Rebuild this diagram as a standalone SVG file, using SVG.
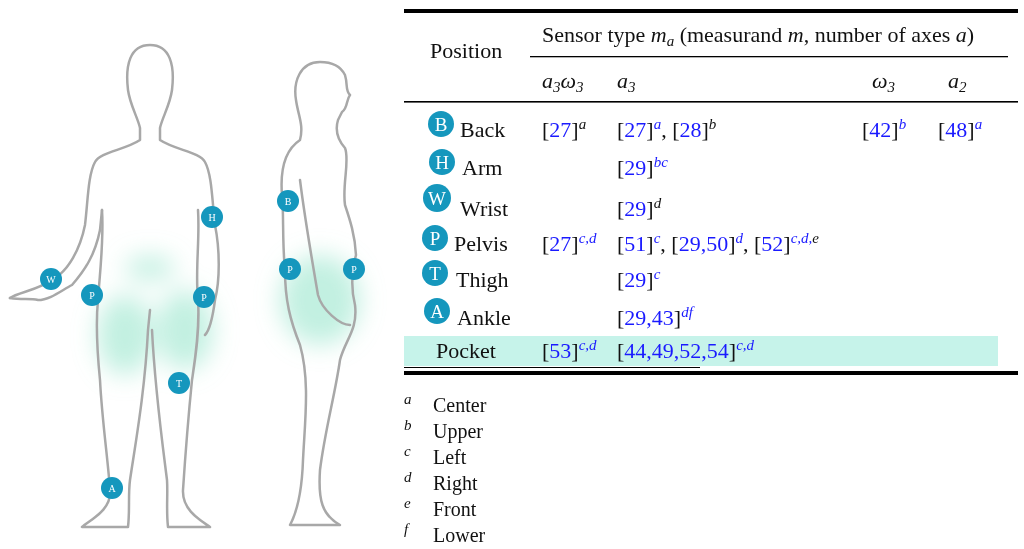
<svg xmlns="http://www.w3.org/2000/svg" width="1024" height="549" viewBox="0 0 1024 549">
<style>
.t{font-family:"Liberation Serif","Times New Roman",serif;font-size:22px;fill:#111}
.i{font-style:italic}
.r{fill:#1a1aff}
.s{font-size:15px;font-style:italic}
.body{fill:none;stroke:#a8a8a8;stroke-width:2.5;stroke-linejoin:round;stroke-linecap:round}
.dot{fill:#1597bd}
.dl{font-family:"Liberation Serif",serif;fill:#fff;text-anchor:middle}
.g{fill:#8fe3c8;opacity:.55}
</style>
<defs><filter id="bl" x="-50%" y="-50%" width="200%" height="200%"><feGaussianBlur stdDeviation="12"/></filter></defs>
<rect width="1024" height="549" fill="#fff"/>
<g id="glow" filter="url(#bl)">
<ellipse class="g" cx="150" cy="268" rx="25" ry="12"/>
<ellipse class="g" cx="125" cy="335" rx="28" ry="40"/>
<ellipse class="g" cx="185" cy="330" rx="28" ry="40"/>
<ellipse class="g" cx="320" cy="300" rx="40" ry="45"/>
</g>
<g id="front-figure" class="body">
<path d="M150 45 C130 45 125 65 128 90 C130 105 138 118 140 128 L140 140 C125 150 100 152 95 162 C88 175 88 200 85 225 C80 250 68 270 55 278 C40 290 18 292 10 298 M150 45 C170 45 175 65 172 90 C170 105 162 118 160 128 L160 140 C175 150 200 152 205 162 C212 175 212 200 215 225 C220 250 220 280 215 300 C213 315 210 330 205 335"/>
<path d="M10 298 C22 300 30 298 38 300 C50 300 62 290 72 285 C85 270 95 255 100 230 L102 210"/>
<path d="M198 210 C200 240 195 270 198 300 M102 210 C104 240 100 270 98 300 C95 330 98 360 100 380 C102 420 108 460 110 490 C112 510 90 520 82 527 L128 527 C130 510 128 495 130 480 C136 440 145 390 148 330 L150 310 M198 300 C200 330 195 360 192 380 C188 420 185 460 183 490 C182 510 200 520 210 527 L168 527 C166 510 168 495 167 480 C162 440 155 390 152 330"/>
</g>
<g id="side-figure" class="body">
<path d="M320 62 C300 62 293 82 296 100 C298 115 304 125 300 140 C285 150 280 170 282 195 C284 215 282 240 285 270 C285 300 290 320 300 345 C310 380 305 420 303 460 C302 490 298 510 290 525 L340 525 C322 515 318 500 320 470 C325 430 335 395 340 360 C345 340 358 330 355 305 C350 285 352 270 356 255 C355 235 350 220 345 205 C342 185 350 160 345 148 C338 140 335 130 338 120 L342 112 C348 108 346 100 350 95 C345 90 348 85 345 75 C340 65 330 62 320 62 Z"/>
<path d="M300 180 C305 220 312 260 318 295 C322 310 340 325 350 325"/>
</g>
<g id="sensors">
<circle class="dot" cx="212" cy="217" r="11"/><text class="dl" x="212" y="221" font-size="10">H</text>
<circle class="dot" cx="288" cy="201" r="11"/><text class="dl" x="288" y="205" font-size="10">B</text>
<circle class="dot" cx="51" cy="279" r="11"/><text class="dl" x="51" y="283" font-size="10">W</text>
<circle class="dot" cx="92" cy="295" r="11"/><text class="dl" x="92" y="299" font-size="10">P</text>
<circle class="dot" cx="204" cy="297" r="11"/><text class="dl" x="204" y="301" font-size="10">P</text>
<circle class="dot" cx="290" cy="269" r="11"/><text class="dl" x="290" y="273" font-size="10">P</text>
<circle class="dot" cx="354" cy="269" r="11"/><text class="dl" x="354" y="273" font-size="10">P</text>
<circle class="dot" cx="179" cy="383" r="11"/><text class="dl" x="179" y="387" font-size="10">T</text>
<circle class="dot" cx="112" cy="488" r="11"/><text class="dl" x="112" y="492" font-size="10">A</text>
</g>
<g id="table">
<rect x="404" y="336" width="594" height="30" fill="#c6f3ea"/>
<rect x="404" y="9" width="614" height="4" fill="#000"/>
<rect x="530" y="56" width="478" height="1.3" fill="#000"/>
<rect x="404" y="101" width="614" height="1.6" fill="#000"/>
<rect x="404" y="367" width="296" height="1" fill="#000"/>
<rect x="404" y="371" width="614" height="4" fill="#000"/>
<text class="t" x="430" y="58">Position</text>
<text class="t" x="542" y="42">Sensor type <tspan class="i">m</tspan><tspan class="s" dy="4">a</tspan><tspan dy="-4"> (measurand </tspan><tspan class="i">m</tspan>, number of axes <tspan class="i">a</tspan>)</text>
<text class="t i" x="542" y="88">a<tspan class="s" dy="4">3</tspan><tspan dy="-4">ω</tspan><tspan class="s" dy="4">3</tspan></text>
<text class="t i" x="617" y="88">a<tspan class="s" dy="4">3</tspan></text>
<text class="t i" x="872" y="88">ω<tspan class="s" dy="4">3</tspan></text>
<text class="t i" x="948" y="88">a<tspan class="s" dy="4">2</tspan></text>
<circle class="dot" cx="441" cy="124" r="13"/><text class="dl" x="441" y="131" font-size="19">B</text>
<circle class="dot" cx="442" cy="162" r="13"/><text class="dl" x="442" y="169" font-size="19">H</text>
<circle class="dot" cx="437" cy="198" r="14"/><text class="dl" x="437" y="205" font-size="19">W</text>
<circle class="dot" cx="435" cy="238" r="13"/><text class="dl" x="435" y="245" font-size="19">P</text>
<circle class="dot" cx="435" cy="273" r="13"/><text class="dl" x="435" y="280" font-size="19">T</text>
<circle class="dot" cx="437" cy="311" r="13"/><text class="dl" x="437" y="318" font-size="19">A</text>
<text class="t" x="460" y="137">Back</text>
<text class="t" x="462" y="175">Arm</text>
<text class="t" x="460" y="216">Wrist</text>
<text class="t" x="454" y="251">Pelvis</text>
<text class="t" x="456" y="287">Thigh</text>
<text class="t" x="457" y="325">Ankle</text>
<text class="t" x="436" y="358">Pocket</text>
<text class="t" x="542" y="137">[<tspan class="r">27</tspan>]<tspan class="s" dy="-8">a</tspan></text>
<text class="t" x="617" y="137">[<tspan class="r">27</tspan>]<tspan class="s r" dy="-8">a</tspan><tspan dy="8">, [</tspan><tspan class="r">28</tspan>]<tspan class="s" dy="-8">b</tspan></text>
<text class="t" x="862" y="137">[<tspan class="r">42</tspan>]<tspan class="s r" dy="-8">b</tspan></text>
<text class="t" x="938" y="137">[<tspan class="r">48</tspan>]<tspan class="s r" dy="-8">a</tspan></text>
<text class="t" x="617" y="175">[<tspan class="r">29</tspan>]<tspan class="s r" dy="-8">bc</tspan></text>
<text class="t" x="617" y="216">[<tspan class="r">29</tspan>]<tspan class="s" dy="-8">d</tspan></text>
<text class="t" x="542" y="251">[<tspan class="r">27</tspan>]<tspan class="s r" dy="-8">c,d</tspan></text>
<text class="t" x="617" y="251">[<tspan class="r">51</tspan>]<tspan class="s r" dy="-8">c</tspan><tspan dy="8">, [</tspan><tspan class="r">29,50</tspan>]<tspan class="s r" dy="-8">d</tspan><tspan dy="8">, [</tspan><tspan class="r">52</tspan>]<tspan class="s r" dy="-8">c,d,</tspan><tspan class="s">e</tspan></text>
<text class="t" x="617" y="287">[<tspan class="r">29</tspan>]<tspan class="s r" dy="-8">c</tspan></text>
<text class="t" x="617" y="325">[<tspan class="r">29,43</tspan>]<tspan class="s r" dy="-8">df</tspan></text>
<text class="t" x="542" y="358">[<tspan class="r">53</tspan>]<tspan class="s r" dy="-8">c,d</tspan></text>
<text class="t" x="617" y="358">[<tspan class="r">44,49,52,54</tspan>]<tspan class="s r" dy="-8">c,d</tspan></text>
</g>
<g id="footnotes" class="t" font-size="20">
<text class="s" x="404" y="404">a</text><text x="433" y="412" font-size="20">Center</text>
<text class="s" x="404" y="430">b</text><text x="433" y="438" font-size="20">Upper</text>
<text class="s" x="404" y="456">c</text><text x="433" y="464" font-size="20">Left</text>
<text class="s" x="404" y="482">d</text><text x="433" y="490" font-size="20">Right</text>
<text class="s" x="404" y="508">e</text><text x="433" y="516" font-size="20">Front</text>
<text class="s" x="404" y="534">f</text><text x="433" y="542" font-size="20">Lower</text>
</g>
</svg>
